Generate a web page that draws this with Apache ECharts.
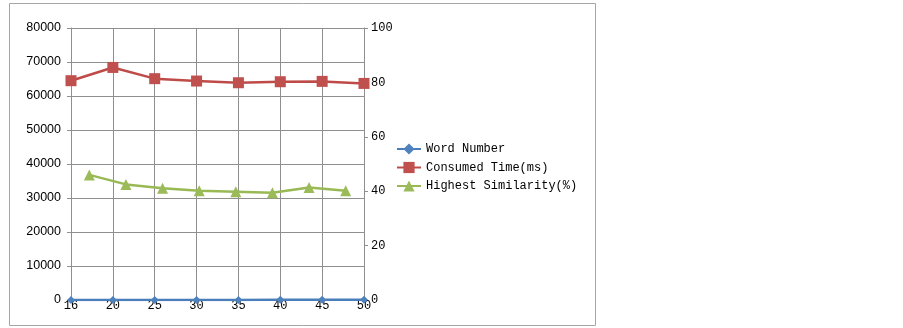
<!DOCTYPE html>
<html>
<head>
<meta charset="utf-8">
<script src="https://cdn.jsdelivr.net/npm/echarts@6/dist/echarts.min.js"></script>
<style>
  html, body { margin: 0; padding: 0; background: #fff; }
  #chart { width: 903px; height: 328px; }
</style>
</head>
<body>
<div id="chart"></div>
<script>
// x categories (word length)
var categories = ['16', '20', '25', '30', '35', '40', '45', '50'];
var wordNumber = [16, 20, 25, 30, 35, 40, 45, 50];
var consumedTime = [64500, 68400, 65100, 64400, 63900, 64200, 64300, 63700];
var similarity = [46.0, 42.5, 41.1, 40.2, 39.8, 39.4, 41.4, 40.2];

var leftTicks = { min: 0, max: 80000, interval: 10000 };
var rightTicks = { min: 0, max: 100, interval: 20 };

var gridColor = '#8f8f8f';
var monoFont = '"Liberation Mono", monospace';

var myChart = echarts.init(document.getElementById('chart'));

var option = {
    animation: false,
    backgroundColor: '#fff',
    graphic: [
        {
            type: 'rect',
            shape: { x: 9.5, y: 3.5, width: 586, height: 322 },
            style: { fill: 'none', stroke: '#a6a6a6', lineWidth: 1 }
        }
    ],
    grid: {
        left: 71,
        right: 539,
        top: 28,
        bottom: 28
    },
    legend: {
        orient: 'vertical',
        left: 396,
        top: 143,
        padding: 0,
        itemWidth: 24,
        itemHeight: 14,
        itemGap: 6.5,
        textStyle: {
            fontFamily: monoFont,
            fontSize: 12,
            color: '#000'
        },
        data: ['Word Number', 'Consumed Time(ms)', 'Highest Similarity(%)']
    },
    xAxis: [
        {
            type: 'category',
            data: categories,
            boundaryGap: false,
            axisLine: { lineStyle: { color: gridColor } },
            axisTick: { show: false },
            axisLabel: {
                margin: 0,
                fontFamily: monoFont,
                fontSize: 12,
                color: '#000'
            },
            splitLine: { show: true, lineStyle: { color: gridColor } }
        },
        {
            // hidden secondary axis for the similarity series
            type: 'category',
            data: categories,
            boundaryGap: true,
            position: 'bottom',
            show: false
        }
    ],
    yAxis: [
        {
            type: 'value',
            min: leftTicks.min,
            max: leftTicks.max,
            interval: leftTicks.interval,
            axisLine: { show: true, lineStyle: { color: gridColor } },
            axisTick: { show: true, length: 4, lineStyle: { color: gridColor } },
            axisLabel: {
                margin: 10,
                formatter: function (v) { return String(v); },
                fontFamily: '"Liberation Sans", Arial, sans-serif',
                fontSize: 12.5,
                color: '#000'
            },
            splitLine: { show: true, lineStyle: { color: gridColor } }
        },
        {
            type: 'value',
            position: 'right',
            min: rightTicks.min,
            max: rightTicks.max,
            interval: rightTicks.interval,
            axisLine: { show: true, lineStyle: { color: gridColor } },
            axisTick: { show: true, length: 4, lineStyle: { color: gridColor } },
            axisLabel: {
                margin: 7,
                fontFamily: monoFont,
                fontSize: 12,
                color: '#000'
            },
            splitLine: { show: false }
        }
    ],
    series: [
        {
            name: 'Word Number',
            type: 'line',
            xAxisIndex: 0,
            yAxisIndex: 0,
            data: wordNumber,
            symbol: 'diamond',
            symbolSize: 8,
            lineStyle: { color: '#4a7ebb', width: 2.5 },
            itemStyle: { color: '#4f81bd' }
        },
        {
            name: 'Consumed Time(ms)',
            type: 'line',
            xAxisIndex: 0,
            yAxisIndex: 0,
            data: consumedTime,
            symbol: 'rect',
            symbolSize: 11,
            lineStyle: { color: '#be4b48', width: 2.5 },
            itemStyle: { color: '#c0504d' }
        },
        {
            name: 'Highest Similarity(%)',
            type: 'line',
            xAxisIndex: 1,
            yAxisIndex: 1,
            data: similarity,
            symbol: 'triangle',
            symbolSize: 11,
            lineStyle: { color: '#98b954', width: 2.5 },
            itemStyle: { color: '#9bbb59' }
        }
    ]
};
myChart.setOption(option);
</script>
</body>
</html>
